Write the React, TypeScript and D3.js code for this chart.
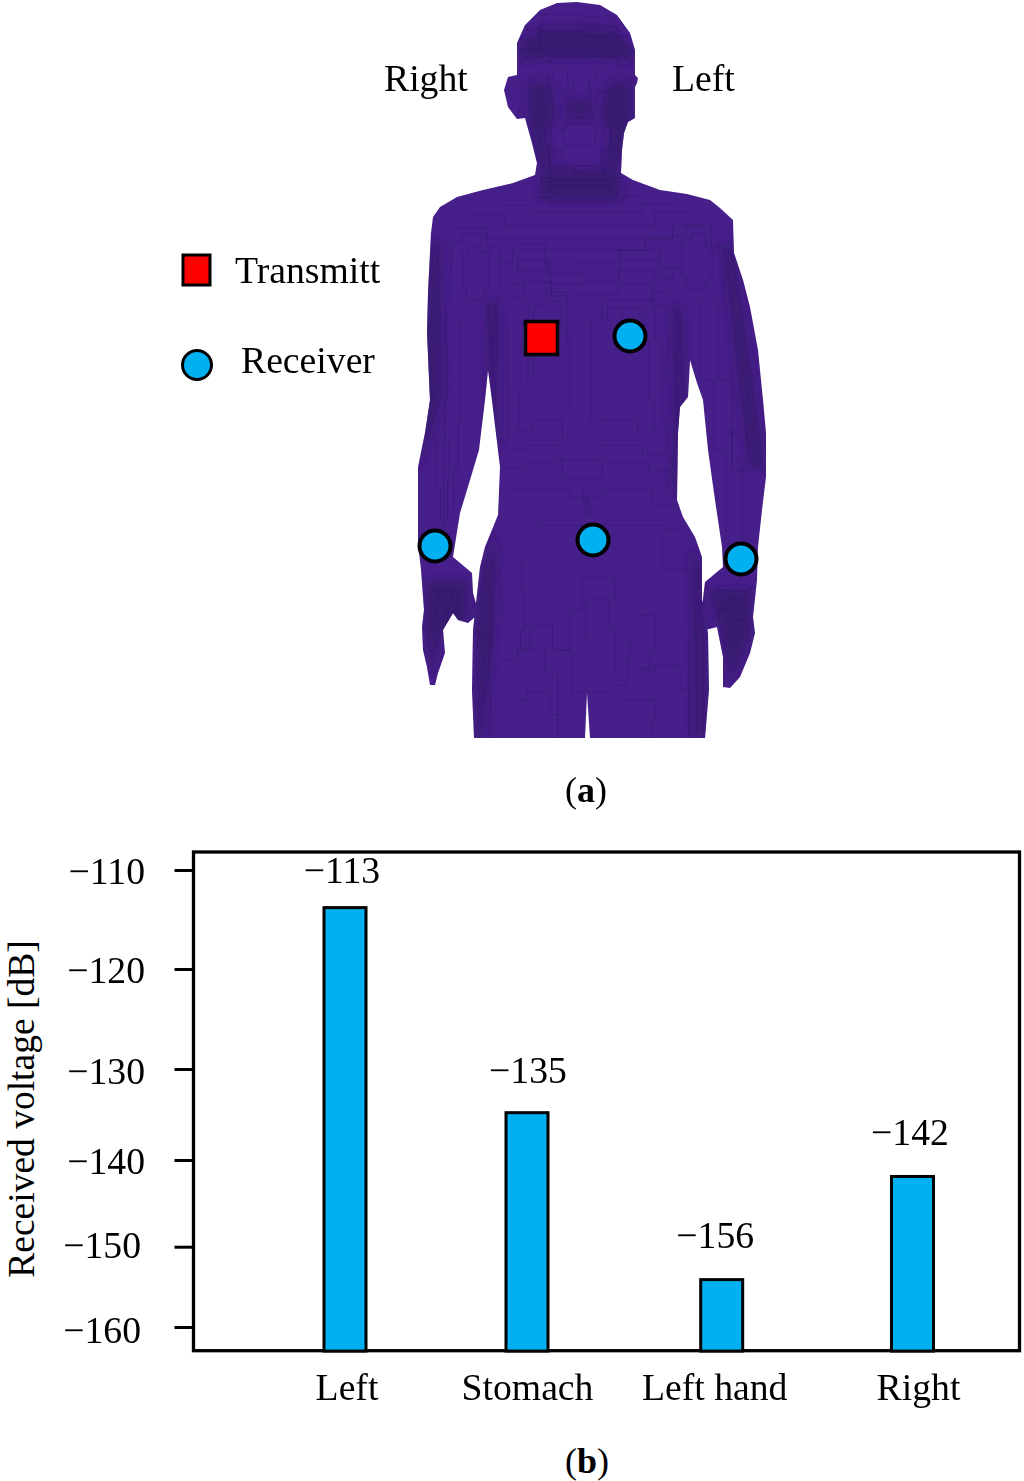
import { useEffect, useRef } from 'react'
import * as d3 from 'd3'

const WIDTH = 1024
const HEIGHT = 1481
const FONT = '"Liberation Serif", "Times New Roman", serif'
const BLUE = '#00b0f0'
const BODY = '#471f8a'
const BODY_DARK = '#36186c'
const LINE = '#2c1460'

// panel (b) values
const categories = ['Left', 'Stomach', 'Left hand', 'Right']
const barValues = [-113.8, -134.8, -154.1, -141.9]
const barLabels = ['−113', '−135', '−156', '−142']
const tickValues = [-110, -120, -130, -140, -150, -160]
const barBase = -163

// the axis of the original is not evenly spaced, so the scale has one stop per tick
const tickPixels = [870, 969, 1069, 1160, 1246.7, 1327]
const barCentres = [345, 527, 721.7, 912.5]
const categoryNudge = [2, 0.5, -7, 6]
const labelNudgeX = [-3, 1, -6.5, -2.5]
const labelNudgeY = [0, -5, -7, -6]
const tickNudgeX = [0, 0, 0, 0, -4, -4]
const tickNudgeY = [13, 13, 14, 13, 10.5, 15]

// panel (a) drawing, page coordinates
type Pt = [number, number]
const silhouette: Pt[] = [
  [557, 3], [577, 2], [600, 5], [617, 15], [630, 33], [635, 50], [635, 75], [638, 78], [637, 83], [635, 87],
  [635, 118], [628, 122], [624, 133], [622, 150], [621, 173], [633, 180], [660, 190], [687, 194], [710, 200],
  [720, 208], [733, 220], [734, 253], [743, 280], [750, 307], [758, 350], [763, 400], [766, 433], [766, 477],
  [762, 510], [758, 547], [757, 580], [753, 617], [755, 633], [750, 653], [740, 677], [730, 688], [723, 687],
  [723, 657], [717, 627], [705, 630], [702, 607], [705, 582], [723, 567], [722, 547], [715, 500], [708, 450],
  [703, 400], [697, 383], [690, 360], [688, 397], [680, 407], [678, 433], [677, 500], [683, 517], [695, 537],
  [702, 557], [702, 600], [708, 633], [709, 690], [705, 738], [590, 738], [587, 693], [585, 738], [474, 738],
  [472, 690], [473, 630], [480, 567], [485, 547], [498, 515], [500, 467], [492, 400], [488, 370], [485, 400],
  [479, 450], [467, 490], [460, 513], [453, 557], [472, 573], [473, 593], [477, 607], [475, 617], [468, 623],
  [458, 620], [453, 613], [443, 630], [445, 653], [438, 673], [435, 685], [430, 685], [427, 667], [423, 650],
  [422, 627], [424, 610], [421, 570], [418, 543], [418, 467], [425, 433], [430, 400], [427, 333], [428, 293],
  [431, 233], [433, 217], [440, 207], [457, 197], [483, 190], [513, 183], [535, 175], [537, 163], [532, 143],
  [525, 118], [517, 119], [508, 107], [504, 90], [508, 77], [517, 75], [517, 43], [525, 25], [540, 10],
]

const shadows: Pt[][] = [
  [[520, 42], [545, 28], [610, 28], [632, 48], [632, 62], [600, 58], [545, 58], [520, 62]],
  [[528, 80], [552, 84], [556, 118], [546, 130], [552, 165], [570, 172], [538, 165], [528, 120]],
  [[632, 80], [604, 84], [600, 118], [610, 130], [606, 165], [590, 172], [620, 165], [632, 120]],
  [[568, 100], [590, 100], [592, 118], [566, 118]],
  [[540, 170], [620, 170], [620, 200], [540, 200]],
  [[430, 240], [440, 240], [442, 400], [428, 440], [420, 470], [420, 400]],
  [[722, 240], [734, 250], [756, 400], [764, 470], [750, 470], [738, 380]],
  [[486, 300], [498, 300], [498, 420], [498, 465], [490, 420]],
  [[672, 300], [682, 310], [686, 400], [678, 495], [672, 495], [674, 400]],
  [[482, 570], [496, 530], [494, 640], [482, 738], [476, 738], [476, 640]],
  [[690, 540], [700, 570], [706, 640], [706, 738], [694, 738], [694, 640]],
  [[425, 580], [468, 580], [468, 618], [442, 632], [432, 680], [424, 620]],
  [[708, 590], [752, 590], [750, 640], [730, 684], [718, 622]],
]

const contours: Pt[][] = [
  // head and face
  [[525, 30], [560, 14], [600, 16], [628, 36]],
  [[520, 40], [560, 24], [604, 26], [631, 46]],
  [[520, 50], [560, 32], [610, 36], [633, 56]],
  [[540, 62], [562, 54], [610, 56], [625, 66]],
  [[545, 78], [560, 70], [575, 82], [572, 92], [552, 90], [545, 78]],
  [[588, 80], [602, 70], [618, 78], [610, 92], [590, 90], [588, 80]],
  [[570, 88], [562, 112], [570, 118], [590, 118], [596, 112], [586, 88]],
  [[558, 130], [572, 124], [590, 124], [600, 132], [590, 146], [568, 146], [558, 130]],
  [[540, 145], [560, 168], [590, 174], [618, 150]],
  [[548, 122], [552, 150], [572, 166], [592, 166], [610, 148], [612, 122]],
  [[511, 88], [520, 84], [523, 108], [516, 112]],
  // neck and collar
  [[540, 178], [565, 180], [600, 180], [622, 178]],
  [[540, 182], [565, 186], [600, 186], [622, 182]],
  [[538, 192], [570, 196], [605, 196], [630, 190]],
  [[530, 198], [570, 202], [605, 202], [640, 196]],
  [[500, 205], [560, 212], [610, 212], [672, 204]],
  [[470, 214], [540, 226], [620, 226], [690, 212]],
  [[455, 228], [520, 238], [640, 238], [705, 226]],
  [[520, 244], [570, 250], [620, 250], [670, 240]],
  // chest steps
  [[500, 262], [525, 250], [565, 264], [600, 262], [640, 250], [680, 268]],
  [[505, 272], [530, 260], [565, 274], [600, 272], [640, 260], [675, 278]],
  [[508, 284], [532, 270], [568, 284], [598, 282], [640, 270], [668, 292]],
  [[512, 298], [535, 282], [568, 296], [596, 294], [640, 284], [664, 306]],
  [[528, 380], [528, 296], [565, 292], [570, 340], [570, 410]],
  [[534, 380], [534, 306], [558, 302], [562, 330]],
  [[590, 420], [592, 320], [612, 300], [650, 300], [660, 340], [664, 420]],
  [[600, 320], [615, 308], [640, 308], [648, 325]],
  [[622, 310], [622, 322], [640, 322], [640, 310]],
  [[504, 330], [512, 390], [506, 440]],
  [[518, 340], [522, 400], [516, 430]],
  [[650, 340], [648, 400], [660, 430]],
  // shoulders
  [[463, 285], [463, 252], [474, 246], [488, 252], [490, 287], [480, 300], [470, 300], [463, 285]],
  [[452, 300], [450, 242], [474, 234], [500, 246], [500, 290]],
  [[682, 276], [682, 240], [700, 234], [712, 248], [712, 280], [700, 290], [690, 288], [682, 276]],
  [[672, 296], [672, 236], [700, 224], [722, 246], [726, 300]],
  // arms
  [[445, 310], [448, 400], [442, 470], [446, 540]],
  [[458, 320], [462, 420], [455, 470], [452, 510]],
  [[436, 440], [436, 490], [445, 520], [450, 480], [448, 440], [436, 440]],
  [[696, 300], [706, 380], [722, 450], [730, 540]],
  [[712, 300], [724, 380], [740, 470], [745, 540]],
  [[728, 432], [735, 462], [748, 470], [745, 432], [728, 432]],
  // belly
  [[520, 430], [545, 420], [580, 440], [620, 420], [655, 432]],
  [[510, 450], [540, 445], [580, 460], [620, 445], [665, 455]],
  [[505, 468], [545, 462], [580, 478], [625, 462], [672, 470]],
  [[510, 490], [560, 490], [580, 498], [625, 490], [680, 505]],
  [[514, 520], [560, 525], [640, 525], [690, 530]],
  [[520, 560], [524, 590], [525, 630], [516, 650]],
  [[660, 540], [665, 570], [700, 570], [700, 590]],
  [[590, 516], [582, 500], [585, 492], [590, 505], [590, 516]],
  // hips and lower body
  [[564, 650], [575, 610], [590, 578], [610, 578], [620, 600], [628, 640], [632, 660], [622, 685], [600, 692], [578, 692], [565, 650]],
  [[580, 640], [592, 600], [606, 598], [612, 630], [618, 670]],
  [[520, 650], [540, 625], [565, 650]],
  [[500, 660], [535, 648], [555, 672], [560, 738]],
  [[630, 640], [650, 615], [660, 650], [640, 668]],
  [[640, 670], [670, 665], [690, 690], [690, 738]],
  [[515, 700], [540, 692], [560, 715]],
  [[620, 700], [650, 700], [660, 720], [645, 738]],
  [[475, 632], [490, 632], [490, 738]],
  [[700, 632], [690, 640], [688, 738]],
  // hands
  [[432, 590], [445, 600], [460, 590], [470, 600]],
  [[430, 610], [442, 620], [452, 610], [462, 618]],
  [[710, 600], [722, 590], [738, 600], [752, 590]],
  [[710, 618], [726, 610], [740, 620], [752, 612]],
]

const receivers: Pt[] = [[630, 336], [435, 546], [593, 540], [741, 559]]

export default function App() {
  const svgRef = useRef<SVGSVGElement>(null)

  useEffect(() => {
    if (!svgRef.current) return
    const svg = d3.select(svgRef.current)
    svg.selectAll('*').remove()

    const serif = (x: number, y: number, s: string, size = 37.7) =>
      svg.append('text').attr('x', x).attr('y', y).attr('font-family', FONT)
        .attr('font-size', size).attr('fill', '#000').text(s)

    // Body
    const outline = d3.line<Pt>().curve(d3.curveLinear)
    const stepped = d3.line<Pt>().curve(d3.curveStep)
    const defs = svg.append('defs')
    defs.append('clipPath').attr('id', 'body').append('path').attr('d', outline(silhouette) + 'Z')
    defs.append('filter').attr('id', 'soft').append('feGaussianBlur').attr('stdDeviation', 5)
    svg.append('path').attr('d', outline(silhouette) + 'Z').attr('fill', BODY)
    const inside = svg.append('g').attr('clip-path', 'url(#body)')
    const shade = inside.append('g').attr('filter', 'url(#soft)')
    shadows.forEach(s =>
      shade.append('path').attr('d', outline(s) + 'Z').attr('fill', BODY_DARK).attr('opacity', 0.8)
    )
    contours.forEach(c =>
      inside.append('path').attr('d', stepped(c)).attr('fill', 'none')
        .attr('stroke', LINE).attr('stroke-width', 0.7).attr('opacity', 0.6)
    )

    serif(384, 91, 'Right')
    serif(672, 91, 'Left')

    // Legend and sensors
    const square = (x: number, y: number, w: number, h: number) =>
      svg.append('rect').attr('x', x).attr('y', y).attr('width', w).attr('height', h)
        .attr('fill', '#ff0000').attr('stroke', '#000').attr('stroke-width', 3)
    square(183, 255, 27, 30)
    serif(235, 283, 'Transmitt')
    svg.append('circle').attr('cx', 197).attr('cy', 365).attr('r', 14.5)
      .attr('fill', BLUE).attr('stroke', '#000').attr('stroke-width', 3)
    serif(241, 373, 'Receiver')

    const mark = square(525.5, 321.5, 32, 33)
    mark.attr('stroke-width', 3.5)
    receivers.forEach(([cx, cy]) =>
      svg.append('circle').attr('cx', cx).attr('cy', cy).attr('r', 15.5)
        .attr('fill', BLUE).attr('stroke', '#000').attr('stroke-width', 4)
    )

    const caption = (y: number, letter: string) => {
      const t = serif(565, y, '(', 36)
      t.append('tspan').attr('font-weight', 'bold').text(letter)
      t.append('tspan').text(')')
    }
    caption(802, 'a')

    // Panel (b)
    const left = 193.5
    const right = 1019.5
    const top = 852
    const bottom = 1350.7
    const y = d3.scaleLinear().domain(tickValues).range(tickPixels)
    const x = d3.scaleLinear().domain(categories.map((_, i) => i)).range(barCentres)
    const barW = 42

    svg.append('rect').attr('x', left).attr('y', top)
      .attr('width', right - left).attr('height', bottom - top)
      .attr('fill', '#fff').attr('stroke', '#000').attr('stroke-width', 3.3)

    const axis = svg.append('g').attr('transform', `translate(${left},0)`)
      .call(d3.axisLeft(y).tickValues(tickValues).tickSize(19).tickPadding(0)
        .tickFormat(d => `−${Math.abs(+d)}`))
    axis.select('.domain').remove()
    axis.selectAll('.tick line').attr('stroke', '#000').attr('stroke-width', 3)
    axis.selectAll<SVGTextElement, number>('.tick text')
      .attr('font-family', FONT).attr('font-size', 37.7).attr('fill', '#000')
      .attr('text-anchor', 'end').attr('dy', null)
      .attr('x', (_, i) => -48.5 + tickNudgeX[i]).attr('y', (_, i) => tickNudgeY[i])

    svg.append('g').selectAll('rect').data(barValues).join('rect')
      .attr('x', (_, i) => x(i) - barW / 2)
      .attr('y', d => y(d))
      .attr('width', barW)
      .attr('height', d => y(barBase) - y(d))
      .attr('fill', BLUE).attr('stroke', '#000').attr('stroke-width', 3)

    svg.append('g').selectAll('text').data(barLabels).join('text')
      .attr('x', (_, i) => x(i) + labelNudgeX[i])
      .attr('y', (_, i) => y(barValues[i]) - 25 + labelNudgeY[i])
      .attr('text-anchor', 'middle').attr('font-family', FONT).attr('font-size', 37.7)
      .text(d => d)

    svg.append('g').selectAll('text').data(categories).join('text')
      .attr('x', (_, i) => x(i) + categoryNudge[i])
      .attr('y', 1400)
      .attr('text-anchor', 'middle').attr('font-family', FONT).attr('font-size', 37.7)
      .text(d => d)

    svg.append('text').attr('transform', 'translate(34,1109) rotate(-90)')
      .attr('text-anchor', 'middle').attr('font-family', FONT).attr('font-size', 37.5)
      .text('Received voltage [dB]')

    caption(1473, 'b')
  }, [])

  return (
    <svg
      ref={svgRef}
      width={WIDTH}
      height={HEIGHT}
      style={{ position: 'absolute', left: 0, top: 0, background: '#fff' }}
    />
  )
}
